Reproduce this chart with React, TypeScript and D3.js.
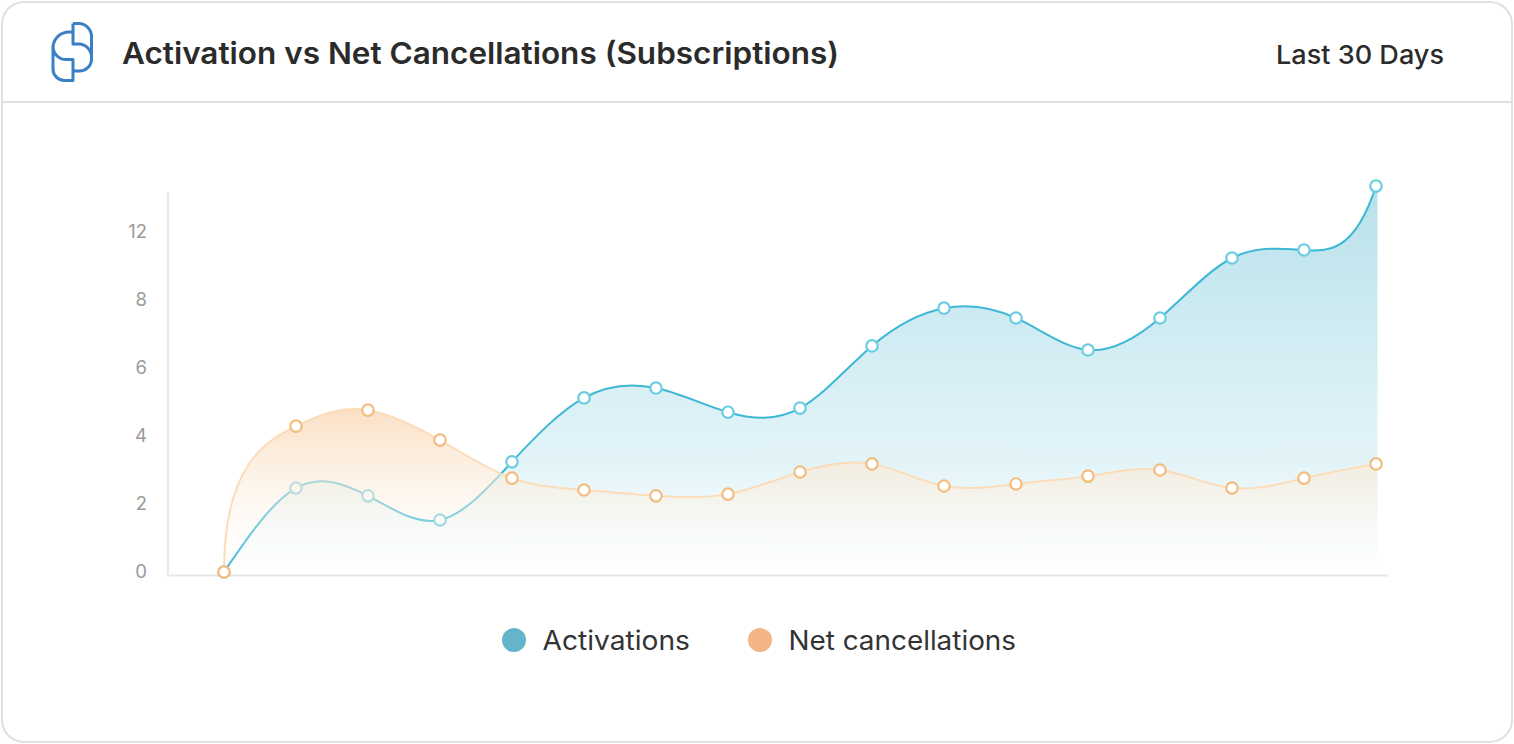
import React from 'react';
import * as d3 from 'd3';

const title = 'Activation vs Net Cancellations (Subscriptions)';
const period = 'Last 30 Days';
const tickLabels = [0, 2, 4, 6, 8, 12];
const days = d3.range(17);
const activations = [0, 2.47, 2.24, 1.53, 3.24, 5.12, 5.41, 4.7, 4.82, 6.65, 7.76, 7.47, 6.53, 7.47, 10.47, 10.94, 14.7];
const cancellations = [0, 4.29, 4.76, 3.88, 2.76, 2.41, 2.24, 2.29, 2.94, 3.18, 2.53, 2.59, 2.82, 3.0, 2.47, 2.76, 3.18];
const legend = [
  { label: 'Activations', color: '#66b4c9', cx: 514, tx: 542.5, w: 147.5 },
  { label: 'Net cancellations', color: '#f5b488', cx: 760, tx: 788.5, w: 227.5 },
];

const x = d3.scaleLinear().domain([0, 16]).range([224, 1376]);
const y = d3.scaleLinear().domain([0, 2, 4, 6, 8, 12, 16]).range([572, 504, 436, 368, 300, 232, 164]);

type End = { kx: number; ky: number } | null;

// Cubic spline through the points; each end is natural, or has its tangent set as a multiple of the end chord.
function solve(v: number[], a: number | null, b: number | null): number[] {
  const n = v.length - 1;
  const lo = new Array(n + 1).fill(1);
  const di = new Array(n + 1).fill(4);
  const up = new Array(n + 1).fill(1);
  const r = new Array(n + 1).fill(0);
  for (let i = 1; i < n; i++) r[i] = 3 * (v[i + 1] - v[i - 1]);
  if (a === null) { di[0] = 2; up[0] = 1; r[0] = 3 * (v[1] - v[0]); } else { di[0] = 1; up[0] = 0; r[0] = a * (v[1] - v[0]); }
  if (b === null) { di[n] = 2; lo[n] = 1; r[n] = 3 * (v[n] - v[n - 1]); } else { di[n] = 1; lo[n] = 0; r[n] = b * (v[n] - v[n - 1]); }
  for (let i = 1; i <= n; i++) {
    const w = lo[i] / di[i - 1];
    di[i] -= w * up[i - 1];
    r[i] -= w * r[i - 1];
  }
  const m = new Array(n + 1).fill(0);
  m[n] = r[n] / di[n];
  for (let i = n - 1; i >= 0; i--) m[i] = (r[i] - up[i] * m[i + 1]) / di[i];
  return m;
}

function splineCurve(start: End, end: End) {
  return (context: any) => {
    let pts: [number, number][] = [];
    return {
      areaStart() {},
      areaEnd() {},
      lineStart() { pts = []; },
      point(px: number, py: number) { pts.push([px, py]); },
      lineEnd() {
        const xs = pts.map(p => p[0]);
        const ys = pts.map(p => p[1]);
        const mx = solve(xs, start ? start.kx : null, end ? end.kx : null);
        const my = solve(ys, start ? start.ky : null, end ? end.ky : null);
        context.moveTo(xs[0], ys[0]);
        for (let i = 0; i < pts.length - 1; i++) {
          context.bezierCurveTo(
            xs[i] + mx[i] / 3, ys[i] + my[i] / 3,
            xs[i + 1] - mx[i + 1] / 3, ys[i + 1] - my[i + 1] / 3,
            xs[i + 1], ys[i + 1],
          );
        }
      },
    };
  };
}

const activationCurve = splineCurve(null, { kx: 0.9, ky: 3.1 });
const cancellationCurve = splineCurve({ kx: 0, ky: 2.2 }, null);

const font = 'Inter, "Noto Sans", sans-serif';

function Series({ values, curve, stroke, ring, fill }: { values: number[]; curve: any; stroke: string; ring: string; fill: string }) {
  const line = d3.line<number>().x((_, i) => x(i)).y(d => y(d)).curve(curve);
  const d = line(values) ?? '';
  const last = values.length - 1;
  const areaPath = `${d}L${x(last) + 1.5},${y(values[last])}V${y(0)}H${x(0)}Z`;
  return (
    <g>
      <path d={areaPath} fill={`url(#${fill})`} />
      <path d={d} fill="none" stroke={stroke} strokeWidth={2} />
      {values.map((v, i) => (
        <circle key={days[i]} cx={x(i)} cy={y(v)} r={5.7} fill="#fff" stroke={ring} strokeWidth={2.2} />
      ))}
    </g>
  );
}

export default function App() {
  return (
    <svg width={1514} height={744} style={{ position: 'absolute', left: 0, top: 0, display: 'block' }}>
      <defs>
        <linearGradient id="blueFill" x1="0" y1="0" x2="0" y2="1">
          <stop offset="0" stopColor="#9fd6e3" stopOpacity={0.75} />
          <stop offset="0.72" stopColor="#b5e2ed" stopOpacity={0.38} />
          <stop offset="1" stopColor="#c5e9f2" stopOpacity={0} />
        </linearGradient>
        <linearGradient id="orangeFill" x1="0" y1="0" x2="0" y2="1">
          <stop offset="0" stopColor="#fbdcbe" stopOpacity={0.9} />
          <stop offset="0.5" stopColor="#fbeedd" stopOpacity={0.55} />
          <stop offset="1" stopColor="#ffffff" stopOpacity={0} />
        </linearGradient>
      </defs>
      <rect x={2} y={2} width={1510} height={740} rx={22} fill="#fff" stroke="#e0e0e0" strokeWidth={2} />
      <line x1={2} x2={1512} y1={102} y2={102} stroke="#dfdfdf" strokeWidth={2} />
      <g fill="none" stroke="#3b80c4" strokeWidth={3} strokeLinejoin="round">
        <path d="M73 23.5H79A13 13 0 0 1 91.500 36.500V59A12 12 0 0 1 79 71H73V59.500H66A13 13 0 0 1 53 46.500V69A11.500 11.500 0 0 0 64.500 80.500H73V59.500" />
        <path d="M73 23.500V32H69A16 16 0 0 0 53 46.500" />
        <path d="M73 32V44H79A13 13 0 0 1 91.500 57" />
      </g>
      <text x={122} y={64} fontFamily={font} fontSize={30} fontWeight={600} fill="#2b2b2b" textLength={717} lengthAdjust="spacingAndGlyphs">{title}</text>
      <text x={1276} y={64} fontFamily={font} fontSize={26} fontWeight={500} fill="#2b2b2b" textLength={168} lengthAdjust="spacingAndGlyphs">{period}</text>
      <path d="M168 192V575.500H1388" fill="none" stroke="#e8e8e8" strokeWidth={2} />
      {tickLabels.map(t => (
        <text key={t} x={147} y={y(t) + 6} textAnchor="end" fontFamily={font} fontSize={18.500} fill="#9a9a9a">{t}</text>
      ))}
      <Series values={activations} curve={activationCurve} stroke="#3cb8d6" ring="#6ccde2" fill="blueFill" />
      <Series values={cancellations} curve={cancellationCurve} stroke="#fcdcb8" ring="#f2bd7e" fill="orangeFill" />
      {legend.map(d => (
        <g key={d.label}>
          <circle cx={d.cx} cy={640} r={12} fill={d.color} />
          <text x={d.tx} y={650} fontFamily={font} fontSize={27} fill="#333" textLength={d.w} lengthAdjust="spacingAndGlyphs">{d.label}</text>
        </g>
      ))}
    </svg>
  );
}
